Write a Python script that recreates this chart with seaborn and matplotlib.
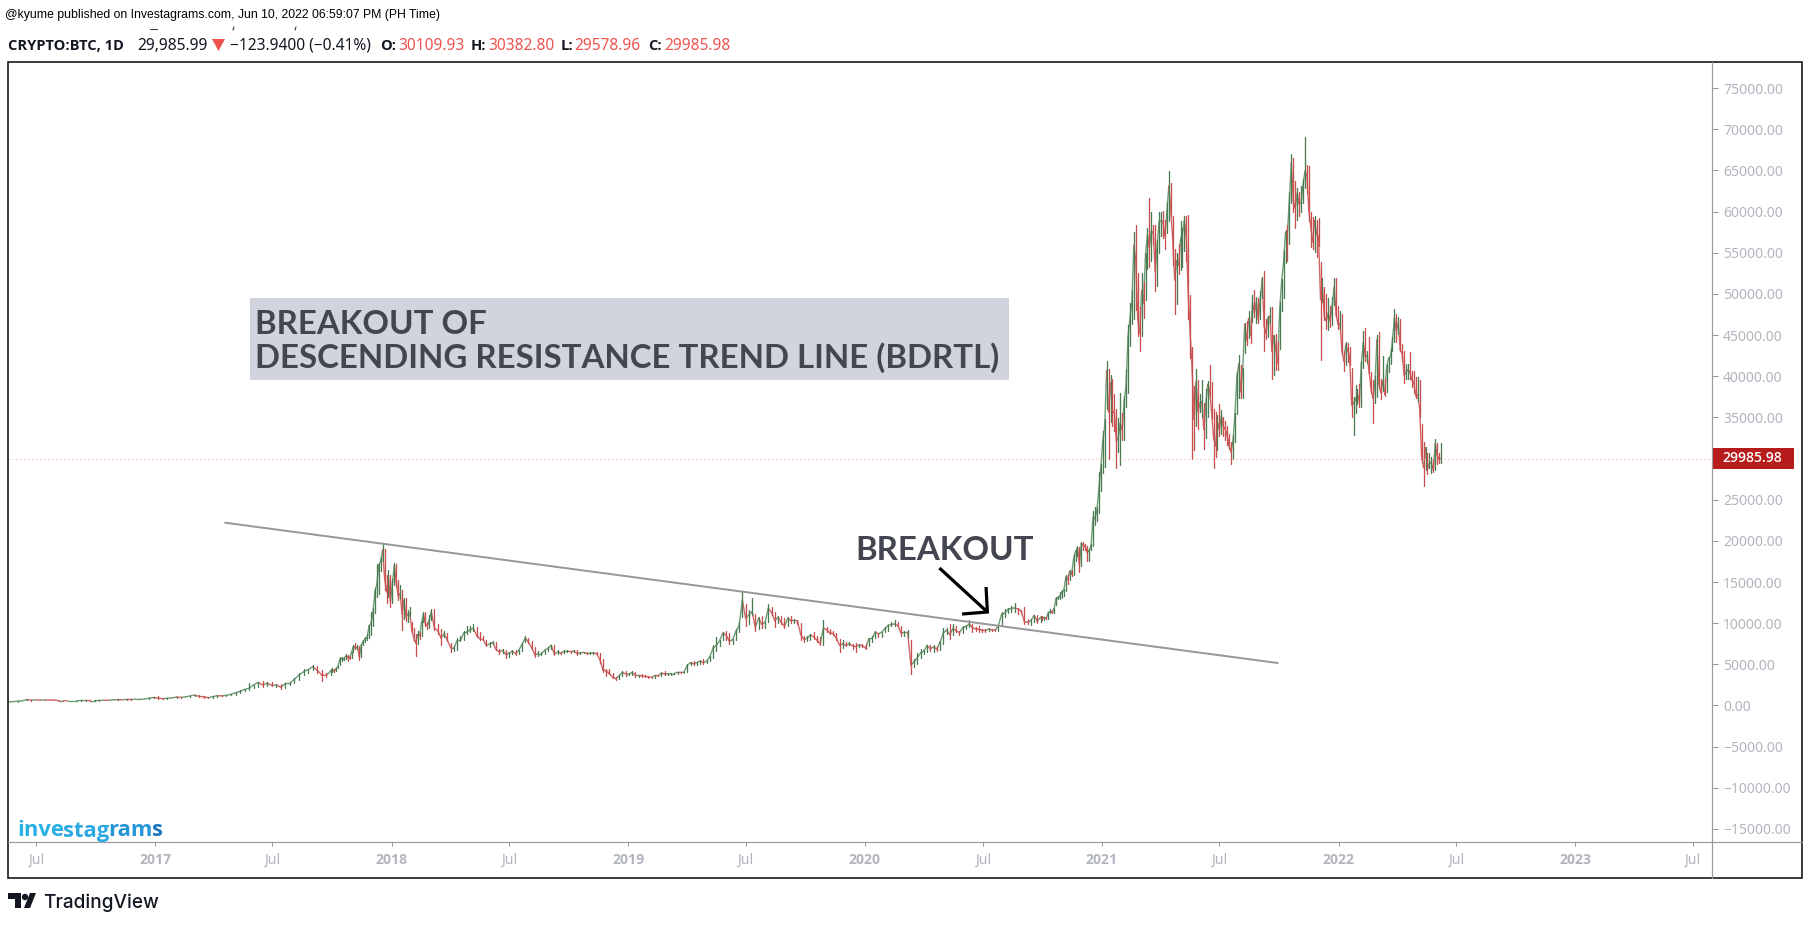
import matplotlib
matplotlib.use("Agg")
import matplotlib.pyplot as plt
from matplotlib.patches import Polygon, Rectangle, Circle
import pandas as pd
import seaborn as sns

# prices in thousands of USD
closes_2016 = [.44, .47, .53, .58, .70, .65, .68, .65, .67, .66,
               .655, .59, .59, .575, .575, .575, .61, .61, .60, .60,
               .61, .64, .635, .69, .72, .70, .74, .73, .77, .77,
               .78, .90, .97, .90, .82, .89, .92, 1.03, .99, 1.05,
               1.17, 1.27, 1.10, 1.06, .95, 1.08, 1.19, 1.17, 1.24, 1.35,
               1.54, 1.72, 1.96, 2.10, 2.50, 2.80, 2.50, 2.70, 2.45, 2.50,
               2.20, 2.70, 2.70, 3.20, 3.70, 4.10, 4.35, 4.70, 4.30, 3.70,
               3.65, 4.20]
highs_2016 = [.45, .48, .58, .60, .78, .70, .70, .68, .68, .68,
              .67, .62, .60, .59, .59, .58, .63, .62, .61, .61,
              .62, .65, .65, .70, .74, .72, .76, .75, .78, .79,
              .80, .92, 1.00, 1.13, .90, .92, .93, 1.05, 1.05, 1.08,
              1.20, 1.30, 1.30, 1.12, 1.08, 1.10, 1.22, 1.22, 1.26, 1.37,
              1.60, 1.85, 2.05, 2.70, 2.55, 2.90, 2.98, 2.85, 2.90, 2.62,
              2.65, 2.75, 2.85, 3.30, 4.00, 4.48, 4.45, 4.95, 4.75, 4.30,
              3.90, 4.30]
lows_2016 = [.43, .44, .47, .56, .64, .55, .65, .62, .65, .65,
             .64, .55, .57, .56, .57, .56, .60, .60, .59, .59,
             .60, .63, .62, .65, .68, .68, .70, .72, .73, .76,
             .77, .78, .92, .80, .76, .82, .89, .95, .96, .98,
             1.05, 1.20, .98, .97, .89, .95, 1.05, 1.14, 1.17, 1.25,
             1.33, 1.55, 1.75, 1.90, 2.10, 2.30, 2.20, 2.40, 2.35, 2.30,
             2.00, 2.10, 2.50, 2.70, 3.10, 3.70, 4.00, 4.30, 3.90, 2.95,
             3.50, 3.70]

closes_2017 = [4.4, 4.2, 4.45, 4.75, 5.6, 5.7, 5.7, 6.0, 5.9, 5.75,
               6.45, 7.2, 6.95, 7.1, 5.9, 7.3, 7.8, 8.1, 8.2, 9.7,
               9.9, 11.2, 13.8, 14.7, 17.0, 17.6, 18.9, 15.5, 13.8, 15.5,
               12.6, 14.8, 17.0, 15.0, 13.3, 13.6, 11.1, 12.8, 10.8, 11.1,
               11.2, 9.1, 8.2, 7.6, 8.6, 8.5, 10.1, 11.1, 9.9, 9.7,
               10.4]
highs_2017 = [4.5, 4.45, 4.5, 4.85, 5.85, 5.85, 5.8, 6.2, 6.15, 6.0,
              6.5, 7.4, 7.6, 7.4, 7.2, 7.45, 7.95, 8.3, 8.7, 9.8,
              11.4, 11.9, 14.3, 17.2, 17.3, 17.9, 19.7, 19.0, 15.9, 16.5,
              15.8, 15.4, 17.25, 17.2, 15.3, 14.6, 14.0, 13.0, 13.0, 11.6,
              12.0, 10.2, 9.4, 8.7, 9.1, 8.9, 10.3, 11.3, 11.3, 10.2,
              11.0]
lows_2017 = [4.1, 4.1, 4.2, 4.5, 4.9, 5.4, 5.5, 5.6, 5.4, 5.6,
             5.8, 6.5, 6.9, 6.9, 5.5, 5.9, 7.3, 7.7, 7.9, 8.2,
             8.6, 9.6, 11.2, 13.2, 13.6, 16.3, 17.5, 14.0, 12.5, 13.2,
             12.0, 12.4, 14.6, 14.4, 12.8, 13.0, 9.2, 10.5, 10.3, 10.2,
             10.9, 8.9, 7.8, 6.0, 7.5, 8.1, 8.5, 10.1, 9.6, 9.3,
             9.4]

closes_2018 = [11.4, 9.4, 9.1, 8.2, 8.7, 7.9, 7.0, 7.0, 7.9, 7.9,
               8.8, 8.9, 9.2, 9.4, 8.5, 8.1, 8.0, 7.3, 7.5, 7.65,
               6.8, 6.5, 6.7, 6.2, 6.35, 6.6, 6.3, 6.7, 7.4, 8.2,
               7.7, 7.0, 6.15, 6.3, 6.3, 6.7, 6.95, 7.3, 6.25, 6.5,
               6.35, 6.6, 6.6, 6.55, 6.6, 6.3, 6.4, 6.45, 6.3, 6.35,
               6.4, 6.3, 5.6, 4.3, 4.2, 3.85, 3.4, 3.25, 3.65, 4.0,
               3.85, 3.85, 4.0, 3.65, 3.65, 3.6, 3.55, 3.48, 3.42, 3.65,
               3.62, 3.96, 3.82, 3.83, 3.88, 3.88, 4.03, 4.02, 4.05, 4.9,
               5.2, 5.07, 5.23, 5.4, 5.19, 5.4, 5.95, 7.0, 7.3, 7.9,
               8.8, 8.55, 7.8, 8.0, 8.99, 9.7, 12.8, 10.6, 11.0, 11.4,
               9.5, 10.6, 9.85, 10.1, 11.8, 11.3, 10.3, 10.7, 10.1, 9.6,
               10.6, 10.3, 10.35, 10.28, 8.6, 8.05, 8.15, 8.6, 8.35, 7.95,
               7.5, 9.4, 9.2, 8.8, 8.75, 8.2, 7.3, 7.5, 7.3, 7.5,
               7.25, 7.15, 7.35, 7.3, 6.95, 8.1, 8.15, 8.9, 8.7, 8.9,
               9.35, 9.75, 9.85, 9.9, 9.7, 8.8, 8.9, 8.9, 4.9, 5.3,
               5.8, 6.4, 6.6, 7.3, 6.9, 7.1, 6.85, 7.7, 8.8, 9.15,
               8.6, 9.37, 9.05, 8.85, 9.45, 9.6, 9.9, 9.45, 9.3, 9.25,
               9.15, 9.1, 9.27, 9.2, 9.16, 9.7, 11.1, 11.2, 11.7, 11.8,
               11.85, 11.75, 11.5, 10.2, 10.1, 10.3, 10.95, 10.25, 10.7]
highs_2018 = [11.7, 11.7, 9.9, 9.3, 9.1, 8.8, 7.6, 7.2, 8.2, 8.4,
              9.0, 9.7, 9.6, 9.9, 9.5, 8.9, 8.5, 8.0, 7.7, 7.8,
              7.75, 6.9, 6.85, 6.8, 6.55, 6.75, 6.8, 6.8, 7.6, 8.45,
              8.25, 7.8, 7.15, 6.6, 6.55, 6.8, 7.1, 7.4, 7.35, 6.7,
              6.55, 6.8, 6.8, 6.65, 6.7, 6.7, 6.55, 6.55, 6.5, 6.5,
              6.5, 6.5, 6.35, 5.6, 4.4, 4.4, 3.9, 3.5, 3.7, 4.2,
              4.2, 3.95, 4.2, 4.05, 3.75, 3.8, 3.65, 3.55, 3.45, 3.7,
              3.7, 4.0, 4.2, 3.9, 3.95, 3.95, 4.05, 4.1, 4.1, 5.0,
              5.3, 5.35, 5.3, 5.5, 5.6, 5.5, 5.98, 7.4, 8.3, 8.0,
              8.9, 9.05, 8.75, 8.1, 9.3, 10.2, 13.8, 12.3, 11.6, 13.1,
              11.1, 10.8, 10.9, 10.2, 12.3, 12.0, 11.4, 10.9, 10.9, 10.6,
              10.7, 10.9, 10.45, 10.4, 10.0, 8.4, 8.5, 8.7, 8.9, 8.4,
              8.3, 10.4, 9.5, 9.3, 9.1, 8.8, 8.1, 7.9, 7.7, 7.7,
              7.45, 7.6, 7.5, 7.5, 7.45, 8.2, 8.4, 9.0, 8.8, 8.95,
              9.5, 9.8, 10.15, 10.4, 10.2, 9.7, 9.1, 9.2, 8.0, 5.6,
              6.4, 6.9, 6.8, 7.4, 7.4, 7.3, 7.2, 7.8, 9.4, 9.4,
              9.9, 9.9, 9.6, 9.1, 9.7, 9.8, 10.35, 9.95, 9.5, 9.7,
              9.3, 9.3, 9.4, 9.35, 9.25, 9.8, 11.4, 11.7, 11.9, 12.05,
              12.4, 11.9, 11.6, 12.0, 10.5, 10.5, 11.0, 10.95, 10.9]
lows_2018 = [10.4, 9.2, 8.7, 7.4, 8.3, 7.8, 6.5, 6.6, 6.8, 7.8,
             7.9, 8.7, 8.9, 9.1, 8.3, 7.9, 7.9, 7.2, 7.1, 7.5,
             6.7, 6.3, 6.4, 5.8, 5.9, 6.3, 6.1, 6.2, 6.6, 7.7,
             7.6, 6.9, 5.9, 6.0, 6.1, 6.3, 6.6, 6.9, 6.1, 6.2,
             6.2, 6.4, 6.45, 6.4, 6.45, 6.1, 6.3, 6.35, 6.2, 6.3,
             6.3, 6.2, 5.2, 4.1, 3.6, 3.8, 3.3, 3.15, 3.2, 3.6,
             3.6, 3.7, 3.75, 3.5, 3.5, 3.5, 3.45, 3.4, 3.35, 3.4,
             3.55, 3.6, 3.7, 3.7, 3.75, 3.8, 3.85, 3.9, 3.95, 4.05,
             4.9, 4.9, 4.95, 5.1, 5.0, 5.15, 5.35, 5.8, 6.6, 7.2,
             7.9, 8.0, 7.5, 7.5, 7.9, 8.9, 10.8, 9.6, 9.9, 11.0,
             9.1, 9.3, 9.4, 9.4, 10.1, 11.0, 9.5, 10.0, 9.9, 9.4,
             9.6, 10.0, 10.05, 9.9, 7.9, 7.7, 7.8, 8.0, 8.1, 7.7,
             7.3, 7.4, 8.9, 8.7, 8.6, 7.9, 6.5, 7.0, 7.2, 7.3,
             6.9, 6.5, 7.1, 7.1, 6.85, 7.2, 7.7, 8.2, 8.3, 8.3,
             8.9, 9.1, 9.6, 9.6, 9.6, 8.5, 8.5, 8.3, 3.85, 4.7,
             5.0, 5.8, 6.2, 6.5, 6.6, 6.5, 6.6, 6.8, 7.5, 8.7,
             8.1, 8.6, 8.9, 8.6, 8.8, 9.3, 9.5, 8.9, 9.1, 8.9,
             8.9, 8.9, 9.1, 9.0, 9.0, 9.1, 9.6, 10.7, 11.2, 11.3,
             11.3, 11.1, 11.2, 9.9, 9.9, 9.8, 10.2, 10.0, 10.2]

closes_2020 = [10.6, 10.7, 10.6, 11.3, 11.4, 11.3, 11.75, 12.99, 13.1, 13.3,
               13.8, 14.0, 15.6, 15.3, 16.3, 15.95, 17.8, 18.7, 19.15, 17.15,
               19.7, 19.45, 19.35, 18.55, 18.8, 19.45, 22.8, 22.8, 23.7, 26.3,
               28.9, 32.1, 33.9, 40.7, 35.6, 39.2, 35.8, 35.5, 32.1, 32.5,
               34.3, 33.5, 36.9, 38.9, 44.8, 47.1, 49.1, 55.9, 54.1, 46.9,
               45.2, 50.4, 48.9, 54.8, 57.2, 55.6, 57.6, 57.4, 52.7, 55.9,
               58.8, 58.9, 58.7, 57.0, 60.0, 63.1, 60.3, 56.5, 51.7, 54.0,
               53.5, 56.6, 57.4, 58.9, 56.7, 49.7, 45.0, 40.7, 34.7, 39.3,
               35.7, 36.7, 36.9, 33.5, 36.7, 39.0, 38.3, 35.6, 32.5, 31.5,
               34.4, 33.5, 35.2, 33.9, 33.6, 32.8, 31.5, 30.8, 32.1, 35.4,
               40.0, 41.5, 38.1, 40.9, 46.3, 44.4, 47.0, 45.0, 48.9, 47.7,
               49.0, 46.9, 49.3, 51.8, 46.1, 45.2, 47.1, 47.3, 43.0, 44.9,
               43.2, 41.6, 48.0, 51.5, 53.9, 57.5, 57.4, 61.5, 65.9, 61.3,
               60.4, 62.2, 60.9, 61.0, 63.2, 64.9, 64.4, 60.1, 58.1, 56.3,
               58.9, 57.2, 57.0, 49.3, 50.6, 47.2, 46.7, 47.7, 46.7, 48.6,
               50.8, 47.5, 46.3, 46.4, 43.1, 41.8, 43.9, 43.1, 42.3, 36.5,
               36.7, 37.1, 37.9, 36.9, 41.5, 44.1, 42.4, 42.5, 40.5, 38.4,
               37.3, 39.2, 44.4, 39.1, 38.0, 39.4, 37.8, 41.1, 42.2, 42.4,
               44.3, 47.1, 45.5, 46.4, 43.2, 42.7, 40.1, 40.5, 40.8, 40.5,
               39.5, 39.2, 37.6, 37.7, 36.0, 30.1, 28.9, 31.3, 28.7, 29.4,
               29.5, 28.6, 31.8, 30.4, 29.9, 29.98598]
highs_2020 = [10.9, 10.8, 10.7, 11.4, 11.7, 11.6, 11.8, 13.2, 13.3, 13.8,
              14.0, 14.1, 15.9, 16.0, 16.5, 16.4, 18.4, 18.9, 19.4, 19.3,
              19.9, 19.9, 19.6, 19.4, 18.95, 19.6, 23.6, 24.1, 24.1, 28.4,
              29.3, 33.3, 34.8, 41.9, 40.9, 40.1, 39.7, 37.8, 36.0, 34.9,
              38.0, 35.5, 37.6, 40.9, 46.2, 48.9, 50.5, 57.5, 58.3, 52.5,
              48.4, 52.5, 51.4, 55.0, 58.0, 61.7, 59.9, 58.4, 58.4, 56.5,
              60.0, 59.9, 60.1, 59.0, 61.2, 64.9, 63.5, 59.4, 55.5, 55.0,
              56.0, 58.9, 58.0, 59.5, 59.5, 59.6, 49.8, 43.5, 38.8, 40.9,
              39.5, 37.8, 39.5, 36.8, 38.4, 39.4, 41.3, 39.3, 36.0, 35.6,
              35.3, 36.6, 35.9, 35.1, 34.6, 34.0, 33.0, 32.0, 32.8, 35.5,
              40.5, 42.6, 41.4, 41.0, 46.5, 46.7, 47.9, 47.1, 49.8, 50.5,
              49.6, 49.5, 50.4, 52.0, 52.8, 47.0, 47.3, 48.4, 48.4, 45.0,
              45.1, 44.2, 49.0, 51.8, 55.3, 57.8, 58.4, 62.4, 67.0, 66.5,
              63.7, 62.9, 62.4, 63.1, 63.9, 69.0, 65.6, 65.5, 60.0, 59.3,
              59.4, 59.0, 59.2, 53.9, 51.9, 50.8, 50.0, 49.5, 48.5, 49.6,
              51.9, 51.9, 48.5, 47.9, 47.5, 43.0, 44.2, 44.0, 43.5, 41.0,
              37.5, 38.9, 38.4, 39.0, 41.9, 45.5, 45.8, 43.0, 44.7, 40.5,
              39.5, 40.0, 45.0, 45.4, 39.6, 42.5, 39.8, 41.5, 42.3, 43.3,
              44.7, 48.2, 47.6, 47.2, 47.0, 43.9, 43.0, 41.5, 41.5, 42.9,
              40.6, 40.6, 39.9, 39.9, 39.5, 34.2, 32.0, 31.4, 30.7, 30.7,
              30.2, 29.9, 32.4, 31.9, 30.7, 31.85]
lows_2020 = [10.4, 10.4, 10.5, 10.5, 11.2, 11.2, 11.2, 12.2, 12.9, 12.9,
             13.1, 13.3, 13.9, 14.8, 15.2, 15.7, 15.8, 17.6, 18.1, 16.2,
             17.0, 18.9, 18.9, 17.6, 17.6, 18.9, 19.4, 21.9, 22.4, 23.4,
             26.1, 28.2, 29.0, 36.0, 30.0, 34.4, 33.9, 33.4, 28.9, 30.8,
             29.2, 32.3, 32.3, 36.2, 38.0, 43.7, 46.3, 47.0, 48.0, 44.9,
             43.0, 44.9, 47.1, 49.2, 53.0, 53.3, 54.0, 56.0, 50.4, 51.0,
             55.0, 57.0, 56.8, 55.5, 57.4, 58.9, 59.5, 53.5, 47.5, 48.8,
             52.4, 52.9, 53.2, 55.2, 54.0, 46.9, 42.2, 30.0, 31.0, 34.0,
             33.6, 35.7, 35.0, 31.2, 32.5, 35.0, 37.5, 34.8, 28.9, 30.2,
             31.0, 32.7, 33.0, 32.7, 32.2, 31.6, 31.1, 29.3, 30.0, 32.0,
             35.4, 37.4, 37.3, 37.3, 42.8, 43.8, 44.6, 44.0, 46.6, 47.2,
             46.4, 46.5, 47.0, 49.5, 43.0, 44.5, 44.8, 46.5, 39.7, 40.2,
             40.8, 40.8, 43.3, 47.9, 49.5, 53.8, 54.0, 56.0, 61.0, 60.0,
             58.0, 59.0, 59.5, 60.0, 61.0, 62.8, 62.3, 58.8, 55.7, 55.5,
             55.1, 54.5, 55.8, 42.0, 49.0, 46.8, 45.7, 45.6, 46.0, 46.2,
             48.7, 47.2, 45.7, 45.7, 42.7, 40.6, 41.3, 41.7, 41.3, 35.0,
             32.9, 35.5, 36.6, 36.2, 36.3, 41.0, 41.9, 41.6, 40.4, 37.9,
             34.3, 36.8, 37.5, 38.6, 37.2, 38.2, 37.6, 38.1, 40.5, 41.5,
             43.0, 44.2, 44.2, 45.1, 43.1, 41.9, 39.2, 39.6, 39.6, 39.6,
             38.7, 37.9, 37.4, 37.0, 35.0, 29.8, 26.7, 28.6, 28.1, 28.8,
             28.2, 28.3, 28.6, 29.3, 29.4, 29.5]

era_starts = ["2016-05-20", "2017-10-01", "2018-03-03", "2020-10-01"]
era_steps = ["7D", "3D", "5D", "3D"]

last_price = 29985.98
trend_dates = ["2017-04-19", "2021-09-29"]
trend_prices = [22200, 5160]
arrow_dates = ["2020-04-25", "2020-07-08", "2020-05-30", "2020-07-08", "2020-07-06"]
arrow_prices = [16700, 11355, 11112, 11355, 14392]
arrow_parts = [0, 0, 1, 1, 1]

y_ticks = list(range(-15000, 80000, 5000))
x_tick_dates = ["2016-07-01", "2017-01-01", "2017-07-01", "2018-01-01", "2018-07-01",
                "2019-01-01", "2019-07-01", "2020-01-01", "2020-07-01", "2021-01-01",
                "2021-07-01", "2022-01-01", "2022-07-01", "2023-01-01", "2023-07-01"]
x_tick_labels = ["Jul", "2017", "Jul", "2018", "Jul", "2019", "Jul", "2020", "Jul",
                 "2021", "Jul", "2022", "Jul", "2023", "Jul"]

W, H = 1811, 925
GREY_TEXT = "#b2b5be"
AXIS_GREY = "#9b9b9b"
INK = "#434651"
RED = "#ef5350"
FONT = "Noto Sans"
BOLD_FONT = "Open Sans"


def px(n):
    # pixels to points at dpi 100
    return n * 0.72


# build long tables for seaborn
eras = [
    (closes_2016, highs_2016, lows_2016),
    (closes_2017, highs_2017, lows_2017),
    (closes_2018, highs_2018, lows_2018),
    (closes_2020, highs_2020, lows_2020),
]
frames = []
for (c, h, l), start, step in zip(eras, era_starts, era_steps):
    dates = pd.date_range(start, periods=len(c), freq=step)
    frames.append(pd.DataFrame({"date": dates, "close": c, "high": h, "low": l}))
bars = pd.concat(frames, ignore_index=True)
bars[["close", "high", "low"]] *= 1000
bars["prev_close"] = bars["close"].shift(1).fillna(bars["close"])
bars["prev_date"] = bars["date"].shift(1).fillna(bars["date"])
bars["side"] = ["up" if c >= p else "down" for c, p in zip(bars["close"], bars["prev_close"])]
bars["bar"] = bars.index

wicks = pd.concat([
    bars[["date", "bar", "side"]].assign(price=bars["low"]),
    bars[["date", "bar", "side"]].assign(price=bars["high"]),
]).sort_values(["bar", "price"])
bodies = pd.concat([
    pd.DataFrame({"date": bars["prev_date"], "bar": bars["bar"], "side": bars["side"], "price": bars["prev_close"], "o": 0}),
    pd.DataFrame({"date": bars["date"], "bar": bars["bar"], "side": bars["side"], "price": bars["close"], "o": 1}),
]).sort_values(["bar", "o"])

sns.set_theme(style="white")
plt.rcParams["font.family"] = [FONT, "DejaVu Sans"]

fig = plt.figure(figsize=(W / 100, H / 100), dpi=100, facecolor="white")
ax = fig.add_axes([8 / W, (H - 842) / H, 1704 / W, 780 / H])

sns.lineplot(data=bodies, x="date", y="price", units="bar", hue="side", estimator=None, sort=False,
             palette={"up": "#6f9c76", "down": "#d06666"}, linewidth=px(1.4), legend=False, ax=ax)
sns.lineplot(data=wicks, x="date", y="price", units="bar", hue="side", estimator=None, sort=False,
             palette={"up": "#4a7a52", "down": "#c84e4e"}, linewidth=px(1.3), legend=False, ax=ax)

trend = pd.DataFrame({"date": pd.to_datetime(trend_dates), "price": trend_prices})
sns.lineplot(data=trend, x="date", y="price", color="#989898", linewidth=px(2), ax=ax)

arrow = pd.DataFrame({"date": pd.to_datetime(arrow_dates), "price": arrow_prices, "part": arrow_parts})
sns.lineplot(data=arrow, x="date", y="price", units="part", estimator=None, sort=False, color="black",
             linewidth=px(3.2), solid_capstyle="butt", solid_joinstyle="miter", ax=ax)

ax.axhline(last_price, color="#ee9a9a", linewidth=px(1), linestyle=(0, (1, 3)))

ax.set_xlim(pd.Timestamp("2016-05-19"), pd.Timestamp("2023-07-31"))
ax.set_ylim(-16579, 78158)
ax.set_xlabel("")
ax.set_ylabel("")
for s in ax.spines.values():
    s.set_visible(False)

ax.yaxis.tick_right()
ax.set_yticks(y_ticks)
ax.set_yticklabels([f"{v:.2f}".replace("-", "\u2212") for v in y_ticks], fontsize=px(14), color=GREY_TEXT)
ax.tick_params(axis="y", length=px(6), width=px(1), color=AXIS_GREY, pad=px(5), right=True, left=False)

ax.set_xticks(pd.to_datetime(x_tick_dates))
ax.set_xticklabels(x_tick_labels, fontsize=px(14), color=GREY_TEXT)
ax.tick_params(axis="x", length=px(4), width=px(1), color=AXIS_GREY, pad=px(7), bottom=True)
for lab in ax.get_xticklabels():
    if lab.get_text() != "Jul":
        lab.set_family(BOLD_FONT)
        lab.set_fontweight("bold")

# everything else is placed in picture pixels
ov = fig.add_axes([0, 0, 1, 1], facecolor="none")
ov.set_xlim(0, W)
ov.set_ylim(H, 0)
ov.axis("off")

ov.plot([1712, 1712], [62, 878], color=AXIS_GREY, lw=px(1.2))
ov.plot([8, 1802], [842, 842], color=AXIS_GREY, lw=px(1.2))
ov.add_patch(Rectangle((8, 62), 1794, 816, fc="none", ec="black", lw=px(1.5)))

ov.text(5, 15, "@kyume published on Investagrams.com, Jun 10, 2022 06:59:07 PM (PH Time)",
        family="Liberation Sans", fontsize=px(12.3), color="black", va="center")

# cut off glyph ends above the header row
for x0, x1, y0, y1 in [(150, 157, 29, 29), (234, 233, 27, 30), (296, 295, 27, 30)]:
    ov.plot([x0, x1], [y0, y1], color="#444444", lw=px(1.2))

header = [
    (8, "CRYPTO:BTC, 1D", "bold", "#131722"),
    (137, "29,985.99", "normal", "#131722"),
    (230, "\u2212123.9400 (\u22120.41%)", "normal", "#131722"),
    (380, "O:", "bold", "#131722"),
    (398, "30109.93", "normal", RED),
    (471, "H:", "bold", "#131722"),
    (488, "30382.80", "normal", RED),
    (561, "L:", "bold", "#131722"),
    (574, "29578.96", "normal", RED),
    (648, "C:", "bold", "#131722"),
    (664, "29985.98", "normal", RED),
]
for x, txt, weight, col in header:
    fam = BOLD_FONT if weight == "bold" else FONT
    size = 14.6 if weight == "bold" else 15.5
    ov.text(x, 46, txt, family=fam, fontsize=px(size), fontweight=weight, color=col, va="center")
ov.add_patch(Polygon([(212, 39), (225, 39), (218.5, 51)], fc=RED, ec="none"))

# note box
ov.add_patch(Rectangle((249.5, 298), 759, 82, fc="#d1d4dc", ec="none"))
ov.text(255, 324, "BREAKOUT OF", family="Lato", fontweight="bold", fontsize=px(33), color=INK, va="center")
ov.text(255, 358, "DESCENDING RESISTANCE TREND LINE (BDRTL)", family="Lato", fontweight="bold",
        fontsize=px(33), color=INK, va="center")
ov.text(855, 550, "BREAKOUT", family="Lato", fontweight="bold", fontsize=px(33), color=INK, va="center")

# last price tag
ov.add_patch(Rectangle((1712, 448), 82, 21, fc="#b71c1c", ec="none"))
ov.text(1722, 458.5, "29985.98", family=BOLD_FONT, color="white", fontsize=px(14), fontweight="semibold", va="center")

# investagrams mark
logo_x = 17
for chunk, col in [("inve", "#2bb0e6"), ("stag", "#2aa8e2"), ("ram", "#2496d6"), ("s", "#1c78c0")]:
    t = ov.text(logo_x, 831, chunk, family=BOLD_FONT, fontweight="bold", fontsize=px(22), color=col, va="center")
    fig.canvas.draw()
    logo_x += t.get_window_extent().width - 1

# TradingView mark
ov.add_patch(Polygon([(8, 893), (21, 893), (21, 908), (15, 908), (15, 899), (8, 899)], fc="#131722", ec="none"))
ov.add_patch(Circle((25, 897), 3.2, fc="#131722", ec="none"))
ov.add_patch(Polygon([(30, 893), (36, 893), (30, 908), (24, 908)], fc="#131722", ec="none"))
ov.text(43, 903, "TradingView", family="Inter", fontweight="medium", fontsize=px(19), color="#131722", va="center")

fig.savefig("out.png", dpi=100, facecolor="white")
